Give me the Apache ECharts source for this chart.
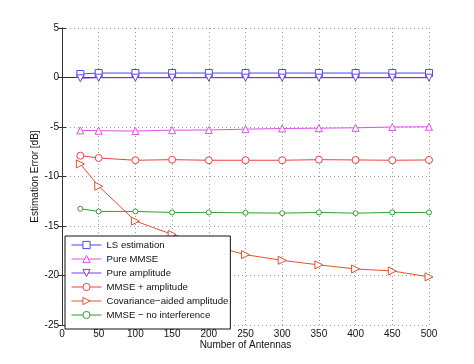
<!DOCTYPE html>
<html><head><meta charset="utf-8">
<script src="https://cdn.jsdelivr.net/npm/echarts@6/dist/echarts.min.js"></script>
<style>html,body{margin:0;padding:0;background:#fff}#c{width:474px;height:364px}</style>
</head><body><div id="c"></div>
<script>
const antennas = [25, 50, 100, 150, 200, 250, 300, 350, 400, 450, 500];
const lsEstimation = [0.35, 0.45, 0.45, 0.45, 0.45, 0.45, 0.45, 0.45, 0.45, 0.45, 0.45];
const pureMmse = [-5.34, -5.38, -5.41, -5.32, -5.3, -5.22, -5.15, -5.12, -5.08, -5.0, -4.98];
const pureAmplitude = [-0.08, -0.02, -0.02, -0.02, -0.02, -0.02, -0.02, -0.02, -0.02, -0.02, -0.02];
const mmseAmplitude = [-7.9, -8.13, -8.36, -8.3, -8.36, -8.36, -8.36, -8.3, -8.33, -8.36, -8.33];
const covAided = [-8.73, -10.98, -14.5, -15.85, -16.9, -17.9, -18.47, -18.93, -19.34, -19.54, -20.14];
const mmseNoInterf = [-13.26, -13.53, -13.53, -13.63, -13.63, -13.67, -13.7, -13.63, -13.7, -13.63, -13.63];
const xTicks = [0, 500, 50];
const yTicks = [-25, 5, 5];

const font = 'Liberation Sans';
const fs = 10;
function pairs(ys){ return antennas.map((x,i)=>[x, ys[i]]); }
function mk(name, ys, color, symbol, size, rot){
  return {
    name, type:'line', data:pairs(ys), symbol, symbolSize:size, symbolRotate:rot||0,
    showAllSymbol:true,
    lineStyle:{color, width:1},
    itemStyle:{color:'#fff', borderColor:color, borderWidth:1},
    emphasis:{disabled:true}, animation:false
  };
}
const chart = echarts.init(document.getElementById('c'));
const axisCommon = {
  axisLine:{show:true, lineStyle:{color:'#333', width:1}},
  axisTick:{show:true, inside:true, length:4, lineStyle:{color:'#333'}},
};
chart.setOption({
  animation:false,
  backgroundColor:'#fff',
  grid:{left:62, right:45, top:28, bottom:39},
  legend:{
    orient:'vertical', left:65, top:236, z:20,
    backgroundColor:'#fff', borderColor:'#111', borderWidth:1,
    padding:[4,2,9,6], itemWidth:30, itemHeight:9, itemGap:4,
    lineStyle:{width:1}, itemStyle:{borderWidth:1},
    textStyle:{fontFamily:font, fontSize:9.6, color:'#111'},
    data:['LS estimation','Pure MMSE','Pure amplitude','MMSE + amplitude','Covariance\u2212aided amplitude','MMSE \u2212 no interference']
  },
  xAxis:[{
    type:'value', min:xTicks[0], max:xTicks[1], interval:xTicks[2],
    name:'Number of Antennas', nameLocation:'middle', nameGap:15, nameMoveOverlap:false,
    nameTextStyle:{fontFamily:font, fontSize:fs, color:'#111', verticalAlign:'top'},
    axisLabel:{fontFamily:font, fontSize:fs, color:'#111', margin:4},
    splitLine:{show:true, lineStyle:{type:[1,3], color:'#999'}},
    ...axisCommon
  },{
    type:'value', position:'top', min:xTicks[0], max:xTicks[1], interval:xTicks[2],
    axisLabel:{show:false}, splitLine:{show:false}, ...axisCommon
  }],
  yAxis:[{
    type:'value', min:yTicks[0], max:yTicks[1], interval:yTicks[2],
    name:'Estimation Error [dB]', nameLocation:'middle', nameGap:22, nameMoveOverlap:false,
    nameTextStyle:{fontFamily:font, fontSize:fs, color:'#111'},
    axisLabel:{fontFamily:font, fontSize:fs, color:'#111', margin:3},
    splitLine:{show:true, lineStyle:{type:[1,3], color:'#999'}},
    ...axisCommon
  },{
    type:'value', position:'right', min:yTicks[0], max:yTicks[1], interval:yTicks[2],
    axisLabel:{show:false}, splitLine:{show:false}, ...axisCommon
  }],
  series:[
    mk('LS estimation', lsEstimation, '#4a4af0', 'rect', 7),
    mk('Pure MMSE', pureMmse, '#e050e8', 'triangle', 7),
    mk('Pure amplitude', pureAmplitude, '#7a3fe0', 'triangle', 7, 180),
    mk('MMSE + amplitude', mmseAmplitude, '#f04040', 'circle', 7),
    mk('Covariance\u2212aided amplitude', covAided, '#e8502c', 'triangle', 8, -90),
    mk('MMSE \u2212 no interference', mmseNoInterf, '#2ea02e', 'circle', 5)
  ]
});
</script></body></html>
